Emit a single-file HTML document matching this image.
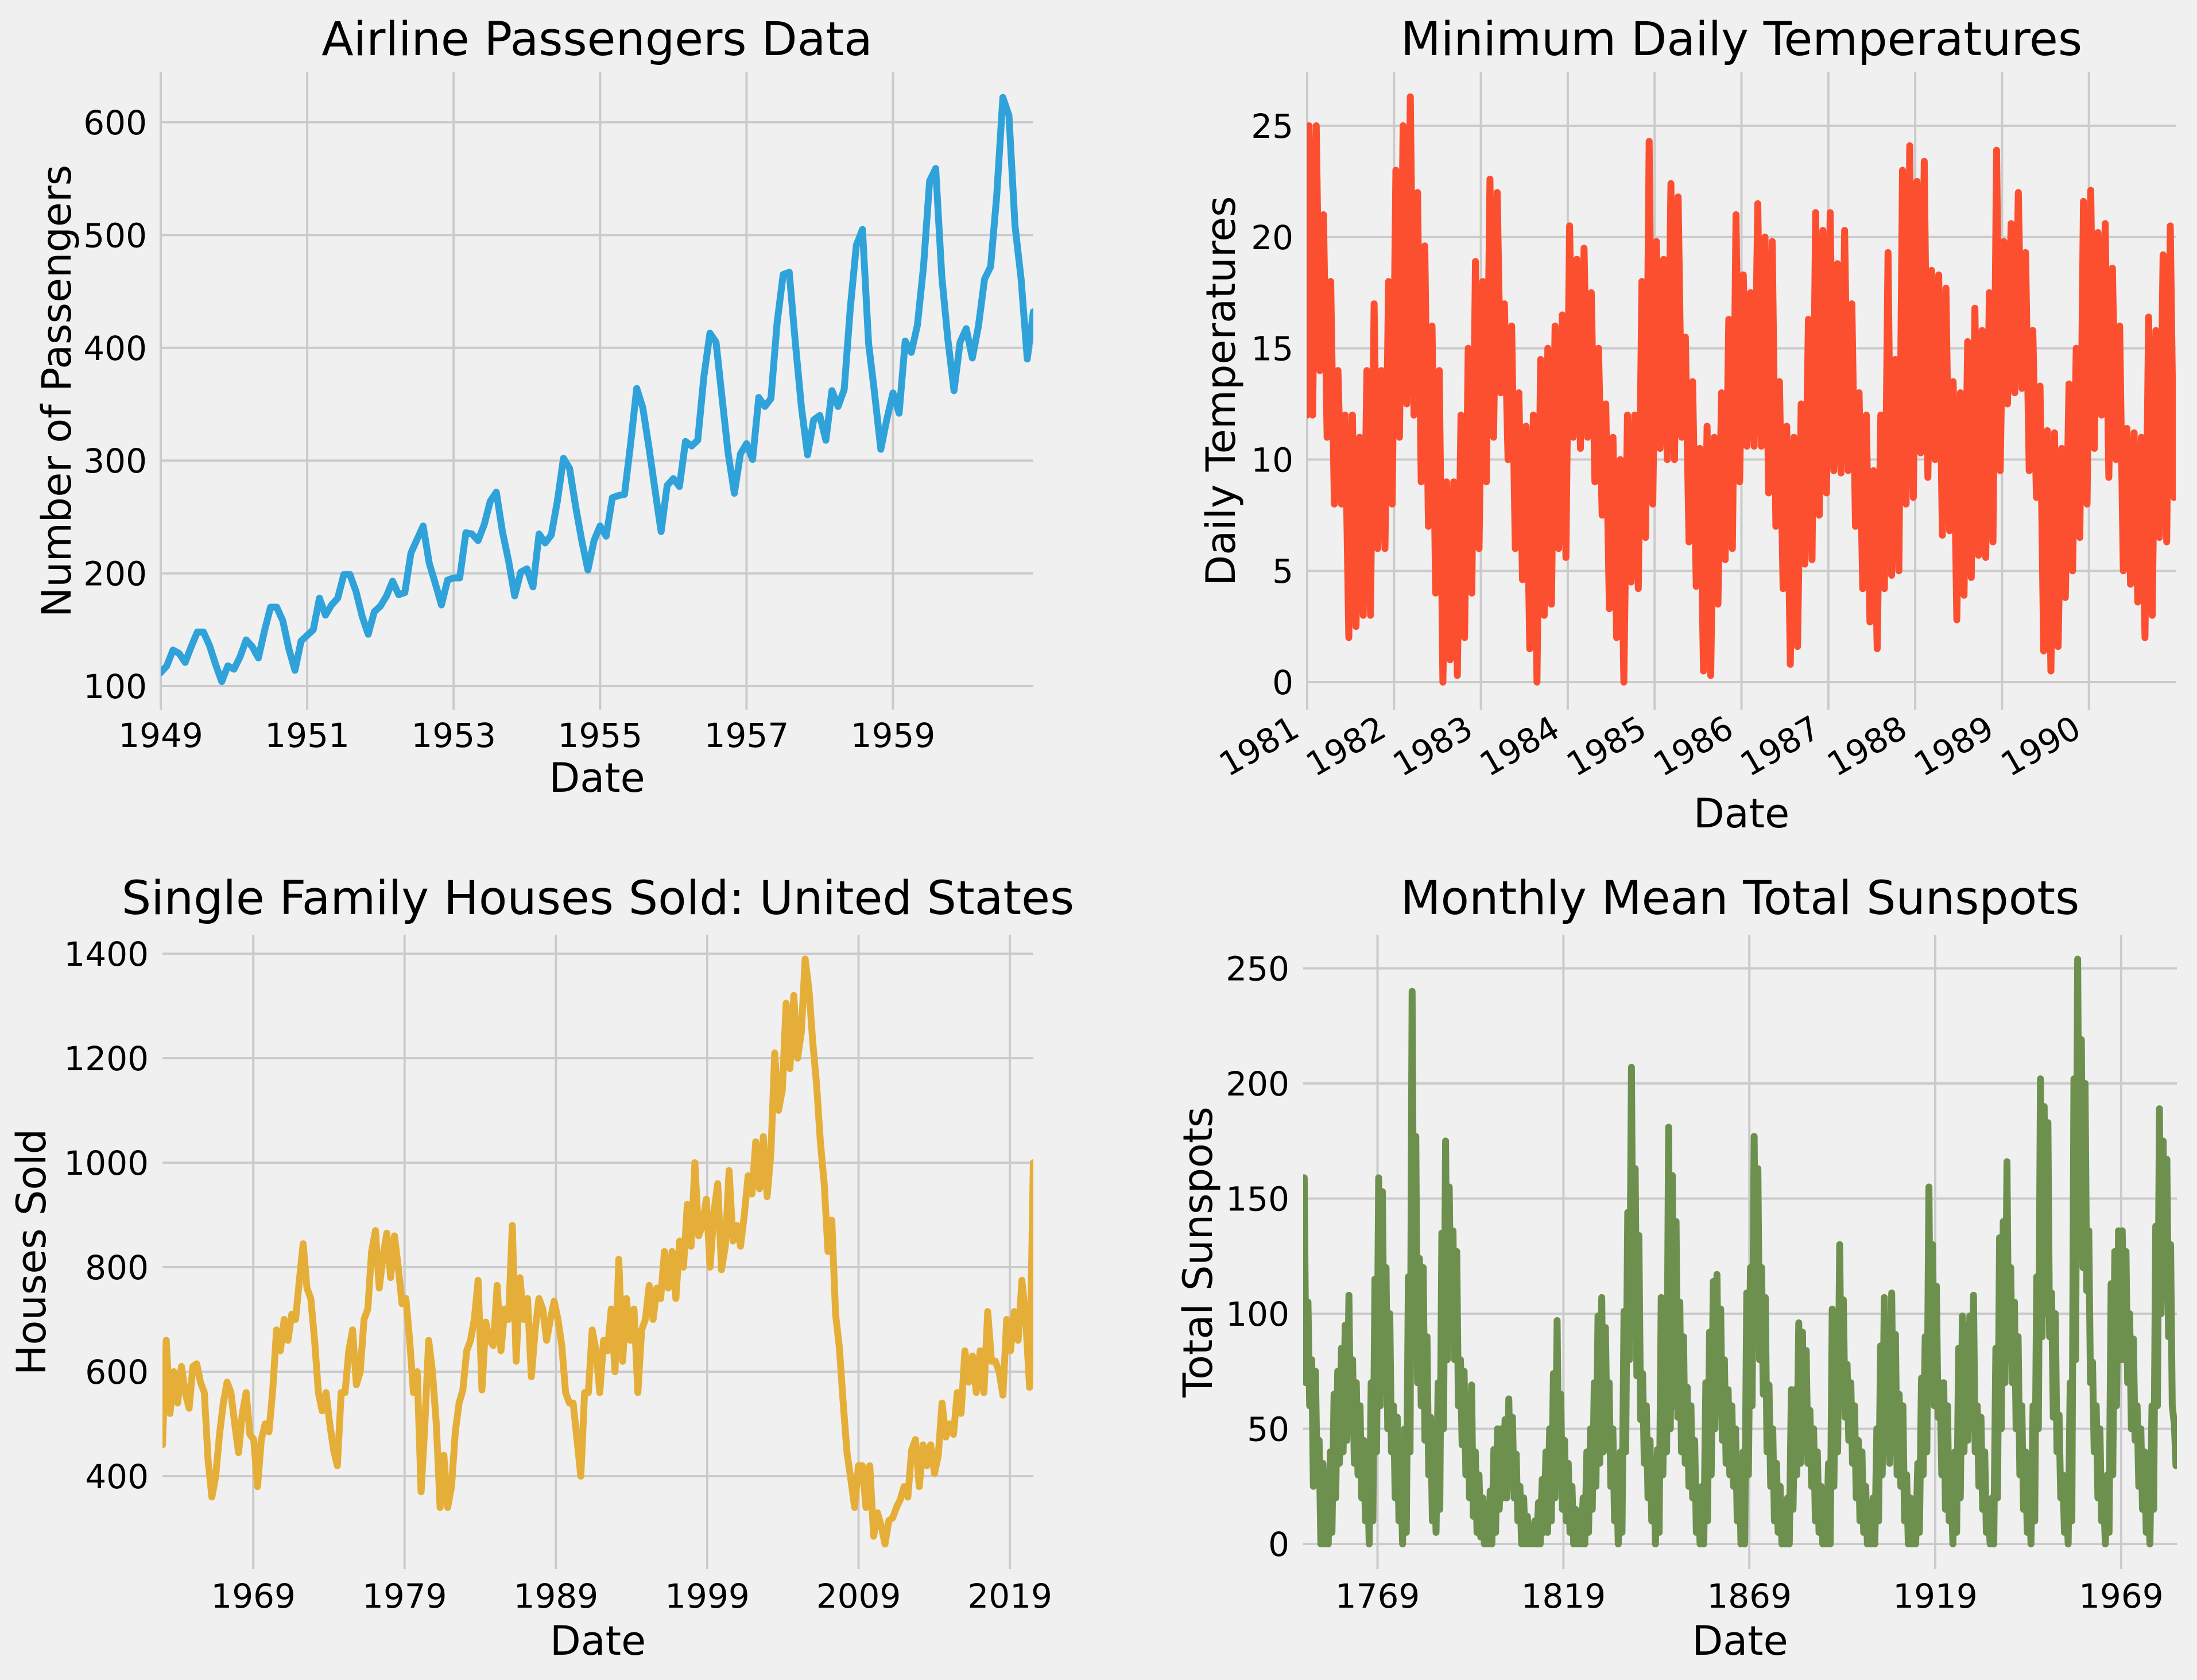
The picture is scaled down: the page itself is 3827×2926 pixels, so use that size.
<!DOCTYPE html>
<html><head><meta charset="utf-8"><style>
html,body{margin:0;padding:0;background:#f0f0f0;}
svg{display:block;font-family:"DejaVu Sans","Liberation Sans",sans-serif;}
</style></head><body>
<svg id="fig" xmlns="http://www.w3.org/2000/svg" width="3827" height="2926" viewBox="0 0 3827 2926">
<rect x="0" y="0" width="3827" height="2926" fill="#f0f0f0"/>
</svg>
<script>
// ---------- Airline passengers (monthly 1949-1960)
const airValues = [112,118,132,129,121,135,148,148,136,119,104,118,
115,126,141,135,125,149,170,170,158,133,114,140,
145,150,178,163,172,178,199,199,184,162,146,166,
171,180,193,181,183,218,230,242,209,191,172,194,
196,196,236,235,229,243,264,272,237,211,180,201,
204,188,235,227,234,264,302,293,259,229,203,229,
242,233,267,269,270,315,364,347,312,274,237,278,
284,277,317,313,318,374,413,405,355,306,271,306,
315,301,356,348,355,422,465,467,404,347,305,336,
340,318,362,348,363,435,491,505,404,359,310,337,
360,342,406,396,420,472,548,559,463,407,362,405,
417,391,419,461,472,535,622,606,508,461,390,432];
const airYTicks = [100,200,300,400,500,600];
const airXTicks = [1949,1951,1953,1955,1957,1959];

// ---------- Min daily temperatures (monthly high / low envelope 1981-1990)
const tempHigh = [25,25,21,18,14,12,12,11,14,17,14,18,
23,25,26.3,22,19.6,16,14,9,9,12,15,18.9,
18,22.6,22,17,16,13,11.5,12,14.5,15,16,16.5,
20.5,19,19.5,17.5,15,12.5,11,10,12,12,18,24.3,
19.8,19,22.4,21.8,15.5,13.5,10.5,11.5,11,13,16.3,21,
18.3,17.5,21.5,20,19.8,13.5,11.5,11,12.5,16.3,21.1,20.3,
21.1,18.8,20.3,17,13,12,9.5,12,19.3,14.5,23,24.1,
22.5,23.4,18.5,18.3,17.7,13.5,13,15.3,16.8,15.8,17.5,23.9,
19.8,20.6,22,19.3,15.8,13.3,11.3,11.2,10.5,13.4,15,21.6,
22.1,20.2,20.6,18.6,16,11.4,11.2,11,16.4,15.8,19.2,20.5];
const tempLow = [12,14,11,8,8,2,2.5,3,3,6,6,8,
11,12.5,12,9,7,4,0,1,0.3,2,4,6,
9,11,13,10,6,4.6,1.5,0,3,3.5,6,5.6,
11,10.5,11,9,7.5,3.3,2,0,4.5,4.2,6.5,8,
10.5,10,10,11,6.3,4.3,0.5,0.3,3.5,5.5,6,9,
10.6,10.6,10.6,8.5,7,4.2,0.8,1.6,5.3,5.5,7.5,8.5,
9.5,9.4,9.5,7,4.2,2.7,1.5,4.2,4.8,5,8,8.3,
10.3,9.2,10,6.6,6.8,2.8,3.9,4.7,5.7,5.6,6.3,9.5,
12.5,13,13.2,9.5,8.3,1.4,0.5,1.6,3.8,5,6.5,8,
10.5,12,9.2,10,5,4.4,3.6,2,3,6.5,6.3,8.3];
const tempYTicks = [0,5,10,15,20,25];
const tempXTicks = [1981,1982,1983,1984,1985,1986,1987,1988,1989,1990];

// ---------- Houses sold (quarterly readings 1963-2020)
const houseValues = [460,660,520,600, 540,610,560,530, 610,615,580,560, 430,360,400,480,
540,580,560,500, 445,520,560,480, 470,380,470,500, 485,565,680,640,
700,660,710,700, 775,845,760,740, 660,560,525,560, 500,450,420,560,
560,640,680,575, 600,700,720,830, 870,760,820,865, 780,860,800,730,
740,660,560,600, 370,500,660,600, 500,340,440,340, 380,485,540,565,
640,660,700,775, 565,695,660,650, 765,640,720,700, 880,620,780,700,
740,590,680,740, 720,660,700,735, 700,650,560,540, 540,470,400,560,
560,680,640,560, 660,640,720,600, 815,620,740,660, 720,560,680,700,
765,700,760,740, 830,760,830,740, 850,800,920,840, 1000,860,880,930,
800,905,960,795, 840,985,850,880, 840,900,975,940, 1040,950,1050,935,
1020,1210,1100,1140, 1305,1180,1320,1200, 1250,1390,1330,1230, 1150,1040,960,830,
890,710,645,540, 445,395,340,420, 420,340,420,285, 330,305,270,315,
320,340,355,380, 360,450,470,380, 460,420,460,405, 440,540,475,500,
480,560,520,640, 580,630,560,640, 560,715,620,620, 600,555,700,640,
715,660,775,700, 570,1000];
const houseYTicks = [400,600,800,1000,1200,1400];
const houseXTicks = [1969,1979,1989,1999,2009,2019];

// ---------- Sunspots (yearly max / min of monthly means, 1749-1983)
const sunMax = [159,105,80,75,45,35,25,40,65,75,85,95,108,80,70,60,45,35,70,115,
159,153,120,100,60,55,30,50,116,240,177,124,120,90,55,40,70,135,175,155,
136,127,80,75,60,69,40,30,20,10,23,41,50,50,54,63,55,39,25,20,
12,5,10,18,28,40,50,74,97,65,45,35,25,15,12,20,40,50,70,99,
107,94,70,50,30,40,101,144,207,163,134,74,60,45,30,41,107,95,181,160,
140,105,90,68,60,45,20,25,70,92,114,117,102,80,67,60,50,35,40,109,
120,177,163,120,107,69,50,35,25,15,20,67,67,96,92,84,58,50,40,25,
20,35,102,100,130,106,78,70,60,45,40,25,15,20,50,86,107,75,109,91,
65,60,30,20,10,35,72,90,155,130,112,70,70,60,25,40,85,99,95,99,
108,60,55,40,15,20,85,133,140,166,120,105,90,60,40,25,60,116,202,190,
183,109,100,56,30,20,70,202,254,219,200,136,79,60,50,20,30,113,127,136,
136,127,100,89,60,50,40,30,60,138,189,175,167,130,52];
const sunMin = [70,60,25,30,0,0,0,5,20,35,40,45,50,35,30,20,10,0,10,40,
60,80,50,40,20,10,0,5,40,105,70,60,45,30,10,5,15,50,80,90,
80,60,43,30,20,12,5,3,0,0,0,5,15,20,20,25,20,10,0,0,
0,0,0,0,5,5,10,20,25,15,10,5,0,0,0,0,5,15,25,35,
40,45,25,10,0,5,40,80,90,73,54,35,20,10,0,5,30,40,50,60,
55,40,35,25,20,5,0,0,10,30,50,60,45,35,30,25,10,0,0,30,
60,100,80,65,40,25,10,5,0,0,0,15,30,35,40,35,25,10,5,0,
0,0,25,40,60,55,45,35,20,10,5,0,0,0,10,30,40,35,40,30,
25,10,0,0,0,5,30,40,70,60,55,30,15,10,0,5,20,40,45,50,
40,25,15,5,0,0,20,50,70,80,70,50,30,15,5,0,10,50,90,100,
90,55,40,20,5,0,10,80,140,120,110,70,40,20,10,0,5,30,60,80,
80,70,50,45,25,15,5,0,15,60,100,110,90,60,34];
const sunYTicks = [0,50,100,150,200,250];
const sunXTicks = [1769,1819,1869,1919,1969];

const NS = 'http://www.w3.org/2000/svg';
const svg = document.getElementById('fig');
function el(tag, attrs, parent){const e=document.createElementNS(NS,tag);for(const k in attrs)e.setAttribute(k,attrs[k]);(parent||svg).appendChild(e);return e;}
function txt(str, attrs, parent){const e=el('text',attrs,parent);e.textContent=str;return e;}

function panel(cfg){
  const g = el('g',{});
  
  
  const sx = v => cfg.left + (v - cfg.x0)/(cfg.x1 - cfg.x0)*(cfg.right - cfg.left);
  const sy = v => cfg.yb + (v - cfg.yv0)/(cfg.yv1 - cfg.yv0)*(cfg.yt - cfg.yb);
  // grid
  cfg.yTicks.forEach(t=>{
    const l = el('line',{x1:cfg.left,x2:cfg.right,y1:sy(t),y2:sy(t),stroke:'#cbcbcb','stroke-width':4},g);
    
    
    const lab = txt(String(t),{x:cfg.left-24,y:sy(t)+21,'text-anchor':'end','font-size':58,fill:'#000'},g);
    
    
  });
  cfg.xTicks.forEach(t=>{
    const x = sx(t);
    const l = el('line',{x1:x,x2:x,y1:cfg.top,y2:cfg.bottom,stroke:'#cbcbcb','stroke-width':4},g);
    
    
    let lab;
    if(cfg.rotate){
      lab = txt(String(t),{x:x-10,y:cfg.xLabY,'text-anchor':'end','font-size':58,fill:'#000',transform:`rotate(-30 ${x-10} ${cfg.xLabY})`},g);
    } else {
      lab = txt(String(t),{x:x,y:cfg.xLabY,'text-anchor':'middle','font-size':58,fill:'#000'},g);
    }
    
    
  });
  // clip
  const cp = el('clipPath',{id:'clip-'+cfg.name},g);
  el('rect',{x:cfg.left,y:cfg.top,width:cfg.right-cfg.left,height:cfg.bottom-cfg.top},cp);
  let d='';
  cfg.pts.forEach((p,i)=>{d += (i?'L':'M') + sx(p[0]).toFixed(1)+','+sy(p[1]).toFixed(1);});
  const path = el('path',{d:d,fill:'none',stroke:cfg.color,'stroke-width':12,'stroke-linejoin':'round','stroke-linecap':'round','clip-path':`url(#clip-${cfg.name})`},g);
  
  
  const title = txt(cfg.title,{x:(cfg.left+cfg.right)/2,y:cfg.titleY,'text-anchor':'middle','font-size':81,fill:'#000'},g);
  
  
  const xl = txt('Date',{x:(cfg.left+cfg.right)/2,y:cfg.dateY,'text-anchor':'middle','font-size':70,fill:'#000'},g);
  
  
  const cy = (cfg.top+cfg.bottom)/2;
  const yl = txt(cfg.ylabel,{x:cfg.ylabX+25,y:cy,'text-anchor':'middle','font-size':70,fill:'#000',transform:`rotate(-90 ${cfg.ylabX+25} ${cy})`},g);
  
  
}

// Panel 1
panel({name:'airline-panel',left:280,right:1800,top:126,bottom:1236,x0:1949,x1:1949+143/12,
  yb:1195,yt:213,yv0:100,yv1:600,yTicks:airYTicks,xTicks:airXTicks,xLabY:1301,
  pts:airValues.map((v,i)=>[1949+i/12,v]),color:'#30a2da',title:'Airline Passengers Data',titleY:96,dateY:1379,
  ylabel:'Number of Passengers',ylabX:98});

// Panel 2
const tempPts=[];
tempHigh.forEach((h,k)=>{tempPts.push([1981+(k+0.25)/12,h]);tempPts.push([1981+(k+0.75)/12,tempLow[k]]);});
tempPts.unshift([1981,tempLow[0]]);
panel({name:'temperature-panel',left:2277,right:3790,top:126,bottom:1236,x0:1981,x1:1991,
  yb:1188,yt:219,yv0:0,yv1:25,yTicks:tempYTicks,xTicks:tempXTicks,xLabY:1280,rotate:true,
  pts:tempPts,color:'#fc4f30',title:'Minimum Daily Temperatures',titleY:96,dateY:1441,
  ylabel:'Daily Temperatures',ylabX:2126});

// Panel 3
panel({name:'houses-panel',left:283,right:1800,top:1628,bottom:2733,x0:1963.0,x1:2020.55,
  yb:2571,yt:1661,yv0:400,yv1:1400,yTicks:houseYTicks,xTicks:houseXTicks,xLabY:2800,
  pts:houseValues.map((v,i)=>[1963.0+i*(57.55/(houseValues.length-1)),v]),color:'#e5ae38',
  title:'Single Family Houses Sold: United States',titleY:1592,dateY:2882,ylabel:'Houses Sold',ylabX:54});

// Panel 4
const sunPts=[];
sunMax.forEach((m,k)=>{sunPts.push([1749+k+0.3,m]);sunPts.push([1749+k+0.75,sunMin[k]]);});
sunPts.unshift([1749,sunMax[0]]);
panel({name:'sunspots-panel',left:2270,right:3792,top:1628,bottom:2733,x0:1749,x1:1984,
  yb:2689,yt:1686.5,yv0:0,yv1:250,yTicks:sunYTicks,xTicks:sunXTicks,xLabY:2800,
  pts:sunPts,color:'#6d904f',title:'Monthly Mean Total Sunspots',titleY:1592,dateY:2882,
  ylabel:'Total Sunspots',ylabX:2086});
</script>
</body></html>
